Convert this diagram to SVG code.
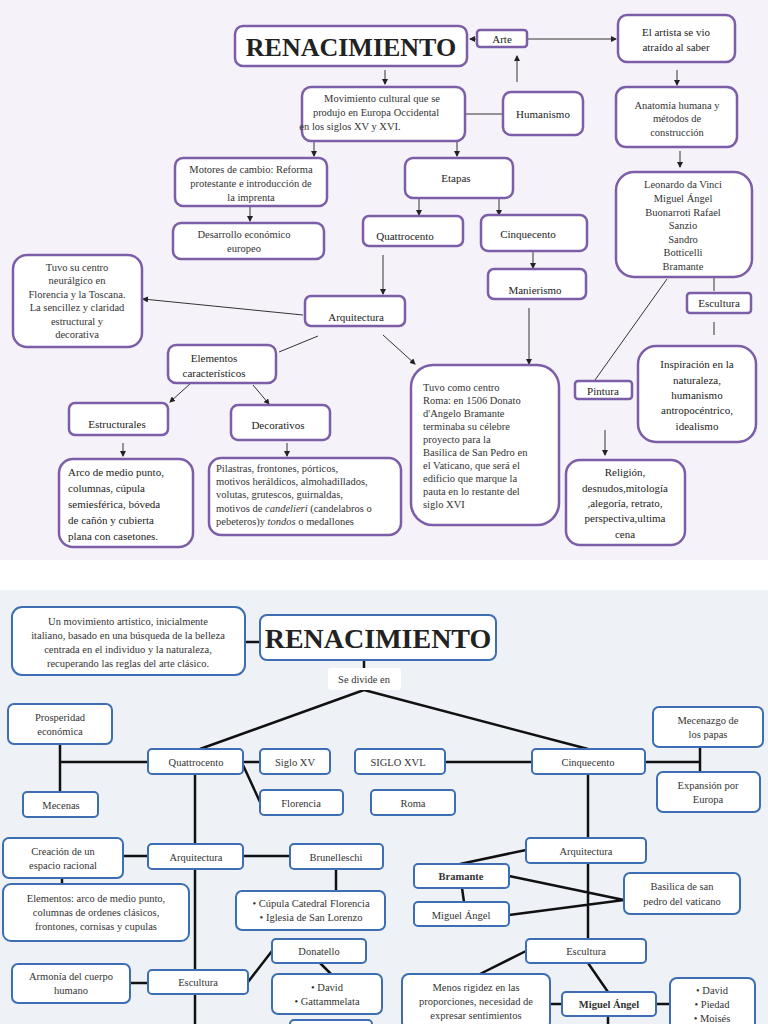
<svg xmlns="http://www.w3.org/2000/svg" width="768" height="1024" viewBox="0 0 768 1024">
<defs>
<marker id="a" viewBox="0 0 6 6" refX="5" refY="3" markerWidth="6" markerHeight="6" markerUnits="userSpaceOnUse" orient="auto"><path d="M0,0L6,3L0,6z" fill="#222"/></marker>
<style>
.p{fill:#fff;stroke:#7b5ea7;stroke-width:2.5}
.b{fill:#fff;stroke:#3d6eb4;stroke-width:2}
text{font-family:"Liberation Serif",serif;fill:#222;text-anchor:middle}
text.st{text-anchor:start}
.t{font-size:11px}
.s{font-size:10.5px;fill:#333}
.l{fill:none;stroke:#333;stroke-width:1}
.l.ar{marker-end:url(#a)}
.k{fill:none;stroke:#111;stroke-width:2.5}
</style>
</defs>
<rect width="768" height="560" fill="#f5f3f9"/>
<rect y="560" width="768" height="30" fill="#fff"/>
<rect y="590" width="768" height="434" fill="#eef2f7"/>
<g id="connectors-top">
<path class="l ar" d="M385,70V84"/><path class="l ar" d="M477,39H470"/><path class="l ar" d="M527,39H616"/><path class="l ar" d="M517,82V56"/><path class="l ar" d="M677,70V85"/><path class="l ar" d="M680,151V167"/><path class="l ar" d="M314,141V156"/><path class="l ar" d="M457,141V156"/><path class="l ar" d="M250,206V221"/><path class="l ar" d="M419,198V215"/><path class="l ar" d="M499,198V215"/><path class="l ar" d="M533,252V268"/><path class="l ar" d="M383,255V294"/><path class="l ar" d="M303,315L143,299"/><path class="l ar" d="M383,335L415,364"/><path class="l ar" d="M529,308V364"/><path class="l ar" d="M191,383L170,402"/><path class="l ar" d="M253,385L269,404"/><path class="l ar" d="M123,443V456"/><path class="l ar" d="M287,443V456"/><path class="l ar" d="M605,430V455"/>
<path class="l" d="M465,114H503M318,336L279,352M667,279L595,380M714,277V291M714,322V335"/>
</g>
<g id="n1"><rect class="p" x="235" y="26" width="232" height="40" rx="8"/><text x="351" y="56" font-size="26" font-weight="bold" fill="#111">RENACIMIENTO</text></g>
<g id="n2"><rect class="p" x="477" y="30" width="50" height="17" rx="3"/><text class="t" x="502" y="43">Arte</text></g>
<g id="n3"><rect class="p" x="618" y="15" width="117" height="47" rx="9"/><text class="t" x="676" y="36">El artista se vio</text><text class="t" x="676" y="51">atraído al saber</text></g>
<g id="n4"><rect class="p" x="302" y="87" width="163" height="54" rx="9"/><text class="s" x="382" y="102">Movimiento cultural que se</text><text class="s" x="376" y="116">produjo en Europa Occidental</text><text class="s" x="350" y="130">en los siglos XV y XVI.</text></g>
<g id="n5"><rect class="p" x="503" y="92" width="80" height="43" rx="8"/><text class="t" x="543" y="118">Humanismo</text></g>
<g id="n6"><rect class="p" x="616" y="87" width="121" height="60" rx="10"/><text class="s" x="677" y="109">Anatomía humana y</text><text class="s" x="677" y="122">métodos de</text><text class="s" x="677" y="136">construcción</text></g>
<g id="n7"><rect class="p" x="175" y="158" width="152" height="48" rx="8"/><text class="s" x="251" y="173">Motores de cambio: Reforma</text><text class="s" x="251" y="187">protestante e introducción  de</text><text class="s" x="251" y="201">la imprenta</text></g>
<g id="n8"><rect class="p" x="405" y="158" width="108" height="40" rx="8"/><text class="t" x="456" y="182">Etapas</text></g>
<g id="n9"><rect class="p" x="173" y="223" width="151" height="36" rx="8"/><text class="s" x="244" y="238">Desarrollo económico</text><text class="s" x="244" y="252">europeo</text></g>
<g id="n10"><rect class="p" x="363" y="216" width="100" height="30" rx="6"/><text class="t" x="405" y="240">Quattrocento</text></g>
<g id="n11"><rect class="p" x="481" y="215" width="106" height="36" rx="7"/><text class="t" x="528" y="238">Cinquecento</text></g>
<g id="n12"><rect class="p" x="616" y="172" width="136" height="105" rx="18"/><text class="s" x="683" y="188">Leonardo da Vinci</text><text class="s" x="683" y="202">Miguel Ángel</text><text class="s" x="683" y="216">Buonarroti  Rafael</text><text class="s" x="683" y="229">Sanzio</text><text class="s" x="683" y="243">Sandro</text><text class="s" x="683" y="256">Botticelli</text><text class="s" x="683" y="270">Bramante</text></g>
<g id="n13"><rect class="p" x="13" y="255" width="129" height="92" rx="14"/><text class="s" x="77" y="271">Tuvo su centro</text><text class="s" x="77" y="284">neurálgico en</text><text class="s" x="77" y="298">Florencia y la Toscana.</text><text class="s" x="77" y="311">La sencillez y claridad</text><text class="s" x="77" y="325">estructural y</text><text class="s" x="77" y="338">decorativa</text></g>
<g id="n14"><rect class="p" x="488" y="269" width="98" height="30" rx="6"/><text class="t" x="535" y="294">Manierismo</text></g>
<g id="n15"><rect class="p" x="687" y="293" width="64" height="20" rx="3"/><text class="t" x="719" y="307">Escultura</text></g>
<g id="n16"><rect class="p" x="305" y="296" width="100" height="30" rx="6"/><text class="t" x="356" y="321">Arquitectura</text></g>
<g id="n17"><rect class="p" x="168" y="345" width="108" height="38" rx="8"/><text class="t" x="214" y="362">Elementos</text><text class="t" x="214" y="377">característicos</text></g>
<g id="n18"><rect class="p" x="638" y="346" width="118" height="96" rx="18"/><text class="t" x="697" y="368">Inspiración en la</text><text class="t" x="697" y="384">naturaleza,</text><text class="t" x="697" y="399">humanismo</text><text class="t" x="697" y="414">antropocéntrico,</text><text class="t" x="697" y="430">idealismo</text></g>
<g id="n19"><rect class="p" x="411" y="365" width="148" height="160" rx="22"/><text class="s st" x="423" y="391">Tuvo como centro</text><text class="s st" x="423" y="404">Roma:  en 1506 Donato</text><text class="s st" x="423" y="417">d'Angelo  Bramante</text><text class="s st" x="423" y="430">terminaba su  célebre</text><text class="s st" x="423" y="443">proyecto para la</text><text class="s st" x="423" y="456">Basílica de San Pedro en</text><text class="s st" x="423" y="469"> el Vaticano, que será el</text><text class="s st" x="423" y="482">edificio que marque la</text><text class="s st" x="423" y="495">pauta en lo restante del</text><text class="s st" x="423" y="508">siglo XVI</text></g>
<g id="n20"><rect class="p" x="575" y="381" width="57" height="18" rx="3"/><text class="t" x="603" y="395">Pintura</text></g>
<g id="n21"><rect class="p" x="69" y="403" width="99" height="32" rx="6"/><text class="t" x="117" y="428">Estructurales</text></g>
<g id="n22"><rect class="p" x="231" y="405" width="99" height="35" rx="7"/><text class="t" x="278" y="429">Decorativos</text></g>
<g id="n23"><rect class="p" x="59" y="459" width="134" height="88" rx="14"/><text class="t st" x="68" y="476">Arco de medio punto,</text><text class="t st" x="68" y="492"> columnas, cúpula</text><text class="t st" x="68" y="508">semiesférica, bóveda</text><text class="t st" x="68" y="524">de cañón y cubierta</text><text class="t st" x="68" y="540">plana con casetones.</text></g>
<g id="n24"><rect class="p" x="209" y="458" width="192" height="77" rx="12"/><text class="s st" x="216" y="472" font-size="10">Pilastras, frontones, pórticos,</text><text class="s st" x="216" y="485" font-size="10">motivos heráldicos, almohadillados,</text><text class="s st" x="216" y="498" font-size="10">volutas, grutescos, guirnaldas,</text><text class="s st" x="216" y="512" font-size="10">motivos de <tspan font-style="italic">candelieri</tspan> (candelabros  o</text><text class="s st" x="216" y="525" font-size="10">pebeteros)y <tspan font-style="italic">tondos</tspan> o medallones</text></g>
<g id="n25"><rect class="p" x="566" y="460" width="119" height="85" rx="14"/><text class="t" x="625" y="476">Religión,</text><text class="t" x="625" y="492">desnudos,mitología</text><text class="t" x="625" y="507">,alegoría, retrato,</text><text class="t" x="625" y="522">perspectiva,ultima</text><text class="t" x="625" y="538">cena</text></g>

<g id="connectors-bottom">
<path class="k" d="M245,642H260M364,660V668M364,690L200,749M364,690L588,749M60,744V792M60,762H148M243,762H260M243,765L260,802M445,762H532M645,762H700M700,747V772M195,774V1024M123,856H148M62,878V884M243,856H290M336,869V891M248,982L272,951M320,963L331,974M130,983H148M588,774V939M526,850L460,864M462,888L464,902M509,876L624,900M509,915L624,900M526,951L480,974M588,963L608,992M550,1004H562M656,1004H670M608,1016V1024"/>
</g>
<g id="m1"><rect class="b" x="12" y="607" width="233" height="68" rx="10"/><text class="s" x="128" y="625">Un movimiento artístico, inicialmente</text><text class="s" x="128" y="639">italiano, basado en una búsqueda de la belleza</text><text class="s" x="128" y="653">centrada en el individuo y la naturaleza,</text><text class="s" x="128" y="667">recuperando las reglas del arte clásico.</text></g>
<g id="m2"><rect class="b" x="260" y="615" width="236" height="45" rx="7"/><text x="378" y="648" font-size="28" font-weight="bold" fill="#111">RENACIMIENTO</text></g>
<g id="m3"><rect x="328" y="668" width="73" height="22" rx="3" fill="#fff"/><text class="s" x="364" y="683">Se divide en</text></g>
<g id="m4"><rect class="b" x="8" y="704" width="104" height="40" rx="6"/><text class="s" x="60" y="721">Prosperidad</text><text class="s" x="60" y="735">económica</text></g>
<g id="m5"><rect class="b" x="148" y="749" width="95" height="25" rx="4"/><text class="s" x="196" y="766">Quattrocento</text></g>
<g id="m6"><rect class="b" x="260" y="749" width="70" height="25" rx="4"/><text class="s" x="295" y="766">Siglo XV</text></g>
<g id="m7"><rect class="b" x="355" y="749" width="90" height="25" rx="4"/><text class="s" x="398" y="766">SIGLO XVL</text></g>
<g id="m8"><rect class="b" x="532" y="749" width="113" height="25" rx="4"/><text class="s" x="588" y="766">Cinquecento</text></g>
<g id="m9"><rect class="b" x="653" y="707" width="110" height="40" rx="6"/><text class="s" x="708" y="724">Mecenazgo de</text><text class="s" x="708" y="738">los papas</text></g>
<g id="m10"><rect class="b" x="657" y="772" width="103" height="40" rx="6"/><text class="s" x="708" y="789">Expansión por</text><text class="s" x="708" y="803">Europa</text></g>
<g id="m11"><rect class="b" x="23" y="792" width="75" height="25" rx="4"/><text class="s" x="61" y="809">Mecenas</text></g>
<g id="m12"><rect class="b" x="260" y="790" width="83" height="25" rx="4"/><text class="s" x="301" y="807">Florencia</text></g>
<g id="m13"><rect class="b" x="371" y="790" width="84" height="25" rx="4"/><text class="s" x="413" y="807">Roma</text></g>
<g id="m14"><rect class="b" x="3" y="838" width="120" height="40" rx="6"/><text class="s" x="63" y="855">Creación de un</text><text class="s" x="63" y="869">espacio racional</text></g>
<g id="m15"><rect class="b" x="148" y="844" width="95" height="25" rx="4"/><text class="s" x="196" y="861">Arquitectura</text></g>
<g id="m16"><rect class="b" x="290" y="844" width="93" height="25" rx="4"/><text class="s" x="336" y="861">Brunelleschi</text></g>
<g id="m17"><rect class="b" x="526" y="838" width="120" height="25" rx="4"/><text class="s" x="586" y="855">Arquitectura</text></g>
<g id="m18"><rect class="b" x="414" y="864" width="95" height="24" rx="4"/><text class="s" x="461" y="880" font-weight="bold">Bramante</text></g>
<g id="m19"><rect class="b" x="624" y="873" width="116" height="41" rx="6"/><text class="s" x="682" y="890">Basilica de san</text><text class="s" x="682" y="905">pedro del vaticano</text></g>
<g id="m20"><rect class="b" x="3" y="884" width="186" height="57" rx="8"/><text class="s" x="96" y="902">Elementos: arco de medio punto,</text><text class="s" x="96" y="916">columnas de ordenes clásicos,</text><text class="s" x="96" y="930">frontones, cornisas y cupulas</text></g>
<g id="m21"><rect class="b" x="236" y="891" width="149" height="39" rx="6"/><text class="s" x="311" y="907">• Cúpula Catedral Florencia</text><text class="s" x="311" y="921">• Iglesia de San Lorenzo</text></g>
<g id="m22"><rect class="b" x="414" y="902" width="95" height="24" rx="4"/><text class="s" x="461" y="919">Miguel Ángel</text></g>
<g id="m23"><rect class="b" x="272" y="939" width="94" height="24" rx="4"/><text class="s" x="319" y="955">Donatello</text></g>
<g id="m24"><rect class="b" x="526" y="939" width="120" height="24" rx="4"/><text class="s" x="586" y="955">Escultura</text></g>
<g id="m25"><rect class="b" x="12" y="964" width="118" height="39" rx="6"/><text class="s" x="71" y="980">Armonía del cuerpo</text><text class="s" x="71" y="994">humano</text></g>
<g id="m26"><rect class="b" x="148" y="970" width="100" height="24" rx="4"/><text class="s" x="198" y="986">Escultura</text></g>
<g id="m27"><rect class="b" x="272" y="974" width="110" height="40" rx="6"/><text class="s" x="327" y="991">• David</text><text class="s" x="327" y="1005">• Gattammelata</text></g>
<g id="m28"><rect class="b" x="402" y="974" width="148" height="55" rx="7"/><text class="s" x="476" y="991">Menos rigidez en las</text><text class="s" x="476" y="1005">proporciones, necesidad de</text><text class="s" x="476" y="1019">expresar sentimientos</text></g>
<g id="m29"><rect class="b" x="562" y="992" width="94" height="24" rx="4"/><text class="s" x="609" y="1008" font-weight="bold">Miguel Ángel</text></g>
<g id="m30"><rect class="b" x="670" y="978" width="85" height="55" rx="7"/><text class="s" x="712" y="994">• David</text><text class="s" x="712" y="1008">• Piedad</text><text class="s" x="712" y="1022">• Moisés</text></g>
<g id="m31"><rect class="b" x="290" y="1020" width="82" height="20" rx="4"/></g>
</svg>
